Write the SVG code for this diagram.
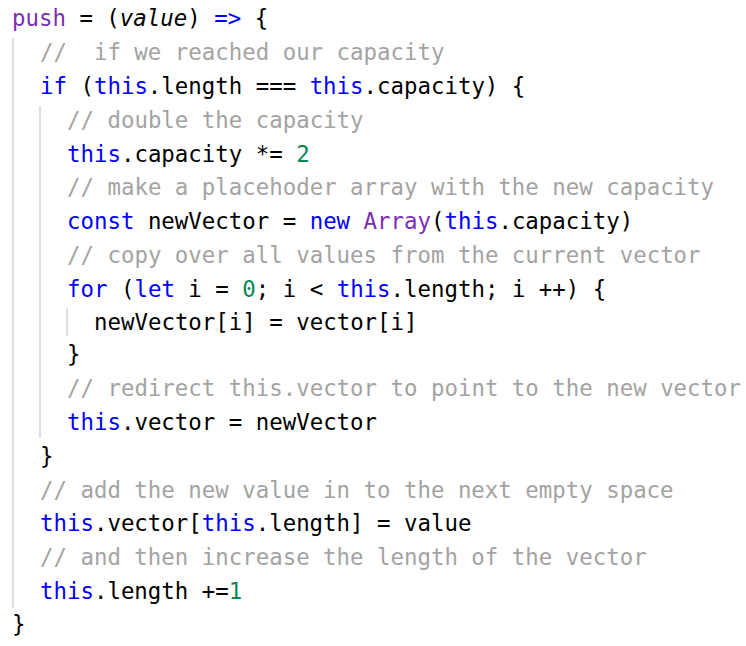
<svg xmlns="http://www.w3.org/2000/svg" width="746" height="646" viewBox="0 0 746 646">
<style>
text{font-family:"DejaVu Sans Mono","Liberation Mono",monospace;font-size:22.4px;fill:#000;white-space:pre}
.k{fill:#0000ff}.p{fill:#7a2fb3}.c{fill:#a3a3a3}.n{fill:#098658}.i{font-style:italic}
line{stroke:#d4d4d4;stroke-width:1.5}
</style>
<rect width="746" height="646" fill="#fff"/>
<line x1="13" y1="38" x2="13" y2="608"/>
<line x1="40" y1="106" x2="40" y2="438"/>
<line x1="67" y1="308" x2="67" y2="336"/>
<text x="12" y="26"><tspan class="p">push</tspan> = (<tspan class="i">value</tspan>) <tspan class="k">=&gt;</tspan> {</text>
<text x="40" y="60" class="c">//  if we reached our capacity</text>
<text x="40" y="94"><tspan class="k">if</tspan> (<tspan class="k">this</tspan>.length === <tspan class="k">this</tspan>.capacity) {</text>
<text x="67" y="128" class="c">// double the capacity</text>
<text x="67" y="162"><tspan class="k">this</tspan>.capacity *= <tspan class="n">2</tspan></text>
<text x="67" y="195" class="c">// make a placehoder array with the new capacity</text>
<text x="67" y="229"><tspan class="k">const</tspan> newVector = <tspan class="k">new</tspan> <tspan class="p">Array</tspan>(<tspan class="k">this</tspan>.capacity)</text>
<text x="67" y="263" class="c">// copy over all values from the current vector</text>
<text x="67" y="297"><tspan class="k">for</tspan> (<tspan class="k">let</tspan> i = <tspan class="n">0</tspan>; i &lt; <tspan class="k">this</tspan>.length; i ++) {</text>
<text x="94" y="330">newVector[i] = vector[i]</text>
<text x="67" y="362">}</text>
<text x="67" y="396" class="c">// redirect this.vector to point to the new vector</text>
<text x="67" y="430"><tspan class="k">this</tspan>.vector = newVector</text>
<text x="40" y="464">}</text>
<text x="40" y="498" class="c">// add the new value in to the next empty space</text>
<text x="40" y="531"><tspan class="k">this</tspan>.vector[<tspan class="k">this</tspan>.length] = value</text>
<text x="40" y="565" class="c">// and then increase the length of the vector</text>
<text x="40" y="599"><tspan class="k">this</tspan>.length +=<tspan class="n">1</tspan></text>
<text x="12" y="632">}</text>
</svg>
